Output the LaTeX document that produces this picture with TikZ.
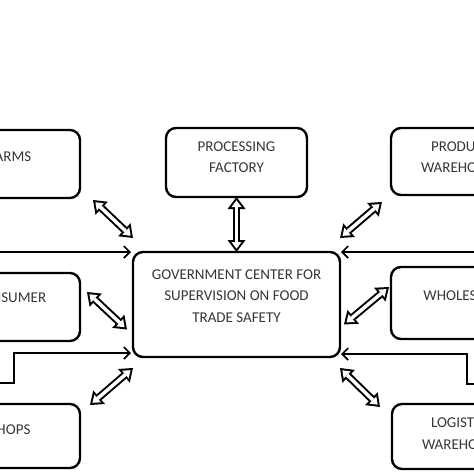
\documentclass[tikz,border=0pt]{standalone}
\usepackage{fontspec}
\setmainfont{Carlito}
\usetikzlibrary{arrows.meta,positioning}
\definecolor{txtgray}{HTML}{363636}

\begin{document}
\begin{tikzpicture}[x=1pt,y=-1pt,
  box/.style={draw=black, line width=2.4pt, rounded corners=10pt, outer sep=0pt, inner sep=0pt},
  txt/.style={text=txtgray, font=\fontsize{15}{21.5}\selectfont, align=center},
  arr/.style={line width=1.7pt, -{Straight Barb[length=6pt,width=12pt]}},
  dbl/.style={line width=7.5pt,
    {Triangle[length=12pt,width=18pt,line width=0pt]}-{Triangle[length=12pt,width=18pt,line width=0pt]},
    postaction={draw=white, line width=3.5pt, shorten <=3.3pt, shorten >=3.3pt,
      {Triangle[length=6.7pt,width=10pt,line width=0pt]}-{Triangle[length=6.7pt,width=10pt,line width=0pt]}}}]
\useasboundingbox (0,0) rectangle (474,474);
\clip (0,0) rectangle (474,474);

% boxes
\node[box, minimum width=140pt, minimum height=68pt, label={[txt,yshift=7pt]center:FARMS}](farms) at (10,164) {};
\node[box, minimum width=141pt, minimum height=69pt, label={[txt,yshift=5.5pt]center:PROCESSING\\FACTORY}](procs) at (236.5,162.5) {};
\node[box, minimum width=140pt, minimum height=67pt, label={[txt,yshift=4.5pt]center:PRODUCT\\WAREHOUSE}](prodw) at (461,161.5) {};
\node[box, minimum width=140pt, minimum height=68pt, label={[txt,yshift=9pt]center:CONSUMER}](cons) at (10,307) {};
\node[box, minimum width=207pt, minimum height=105pt, label={[txt,yshift=8.5pt]center:GOVERNMENT CENTER FOR\\SUPERVISION ON FOOD\\TRADE SAFETY}](gov) at (236.5,304.5) {};
\node[box, minimum width=140pt, minimum height=72pt, label={[txt,yshift=7pt]center:WHOLESALE}](whole) at (461,303) {};
\node[box, minimum width=140pt, minimum height=64pt, label={[txt,yshift=6pt]center:SHOPS}](shops) at (10,436) {};
\node[box, minimum width=140pt, minimum height=65pt, label={[txt,yshift=3pt]center:LOGISTICS\\WAREHOUSE}](logw) at (462,436.5) {};

% two-way links
\draw[dbl] ([xshift=13pt,yshift=-2pt]farms.south east) -- ([yshift=14pt]gov.north west);
\draw[dbl] (procs.south) -- (gov.north);
\draw[dbl] ([xshift=-9pt,yshift=-7pt]prodw.south west) -- ([yshift=14pt]gov.north east);
\draw[dbl] ([xshift=7pt,yshift=15pt]cons.east) -- ([xshift=-6pt,yshift=-25pt]gov.west);
\draw[dbl] ([xshift=10pt,yshift=-1pt]shops.north east) -- ([yshift=-11pt]gov.south west);
\draw[dbl] ([xshift=-2pt,yshift=16pt]whole.west) -- ([xshift=4pt,yshift=-20pt]gov.east);
\draw[dbl] ([yshift=-11pt]gov.south east) -- ([xshift=-12pt,yshift=-3pt]logw.north west);

% one-way reports
\coordinate (inA) at (-5,252);
\coordinate (inB) at (479,252);
\coordinate (inC) at (-5,383);
\coordinate (bendC) at (14,383);
\coordinate (inD) at (479,384);
\coordinate (bendD) at (467,384);
\draw[arr, shorten >=2pt] (inA) -- (gov.north west);
\draw[arr, shorten >=1pt] (inB) -- (gov.north east);
\draw[arr, shorten >=2pt] (inC) -- (bendC) |- ([yshift=4pt]gov.south west);
\draw[arr, shorten >=1pt] (inD) -- (bendD) |- ([yshift=3pt]gov.south east);
\end{tikzpicture}
\end{document}
